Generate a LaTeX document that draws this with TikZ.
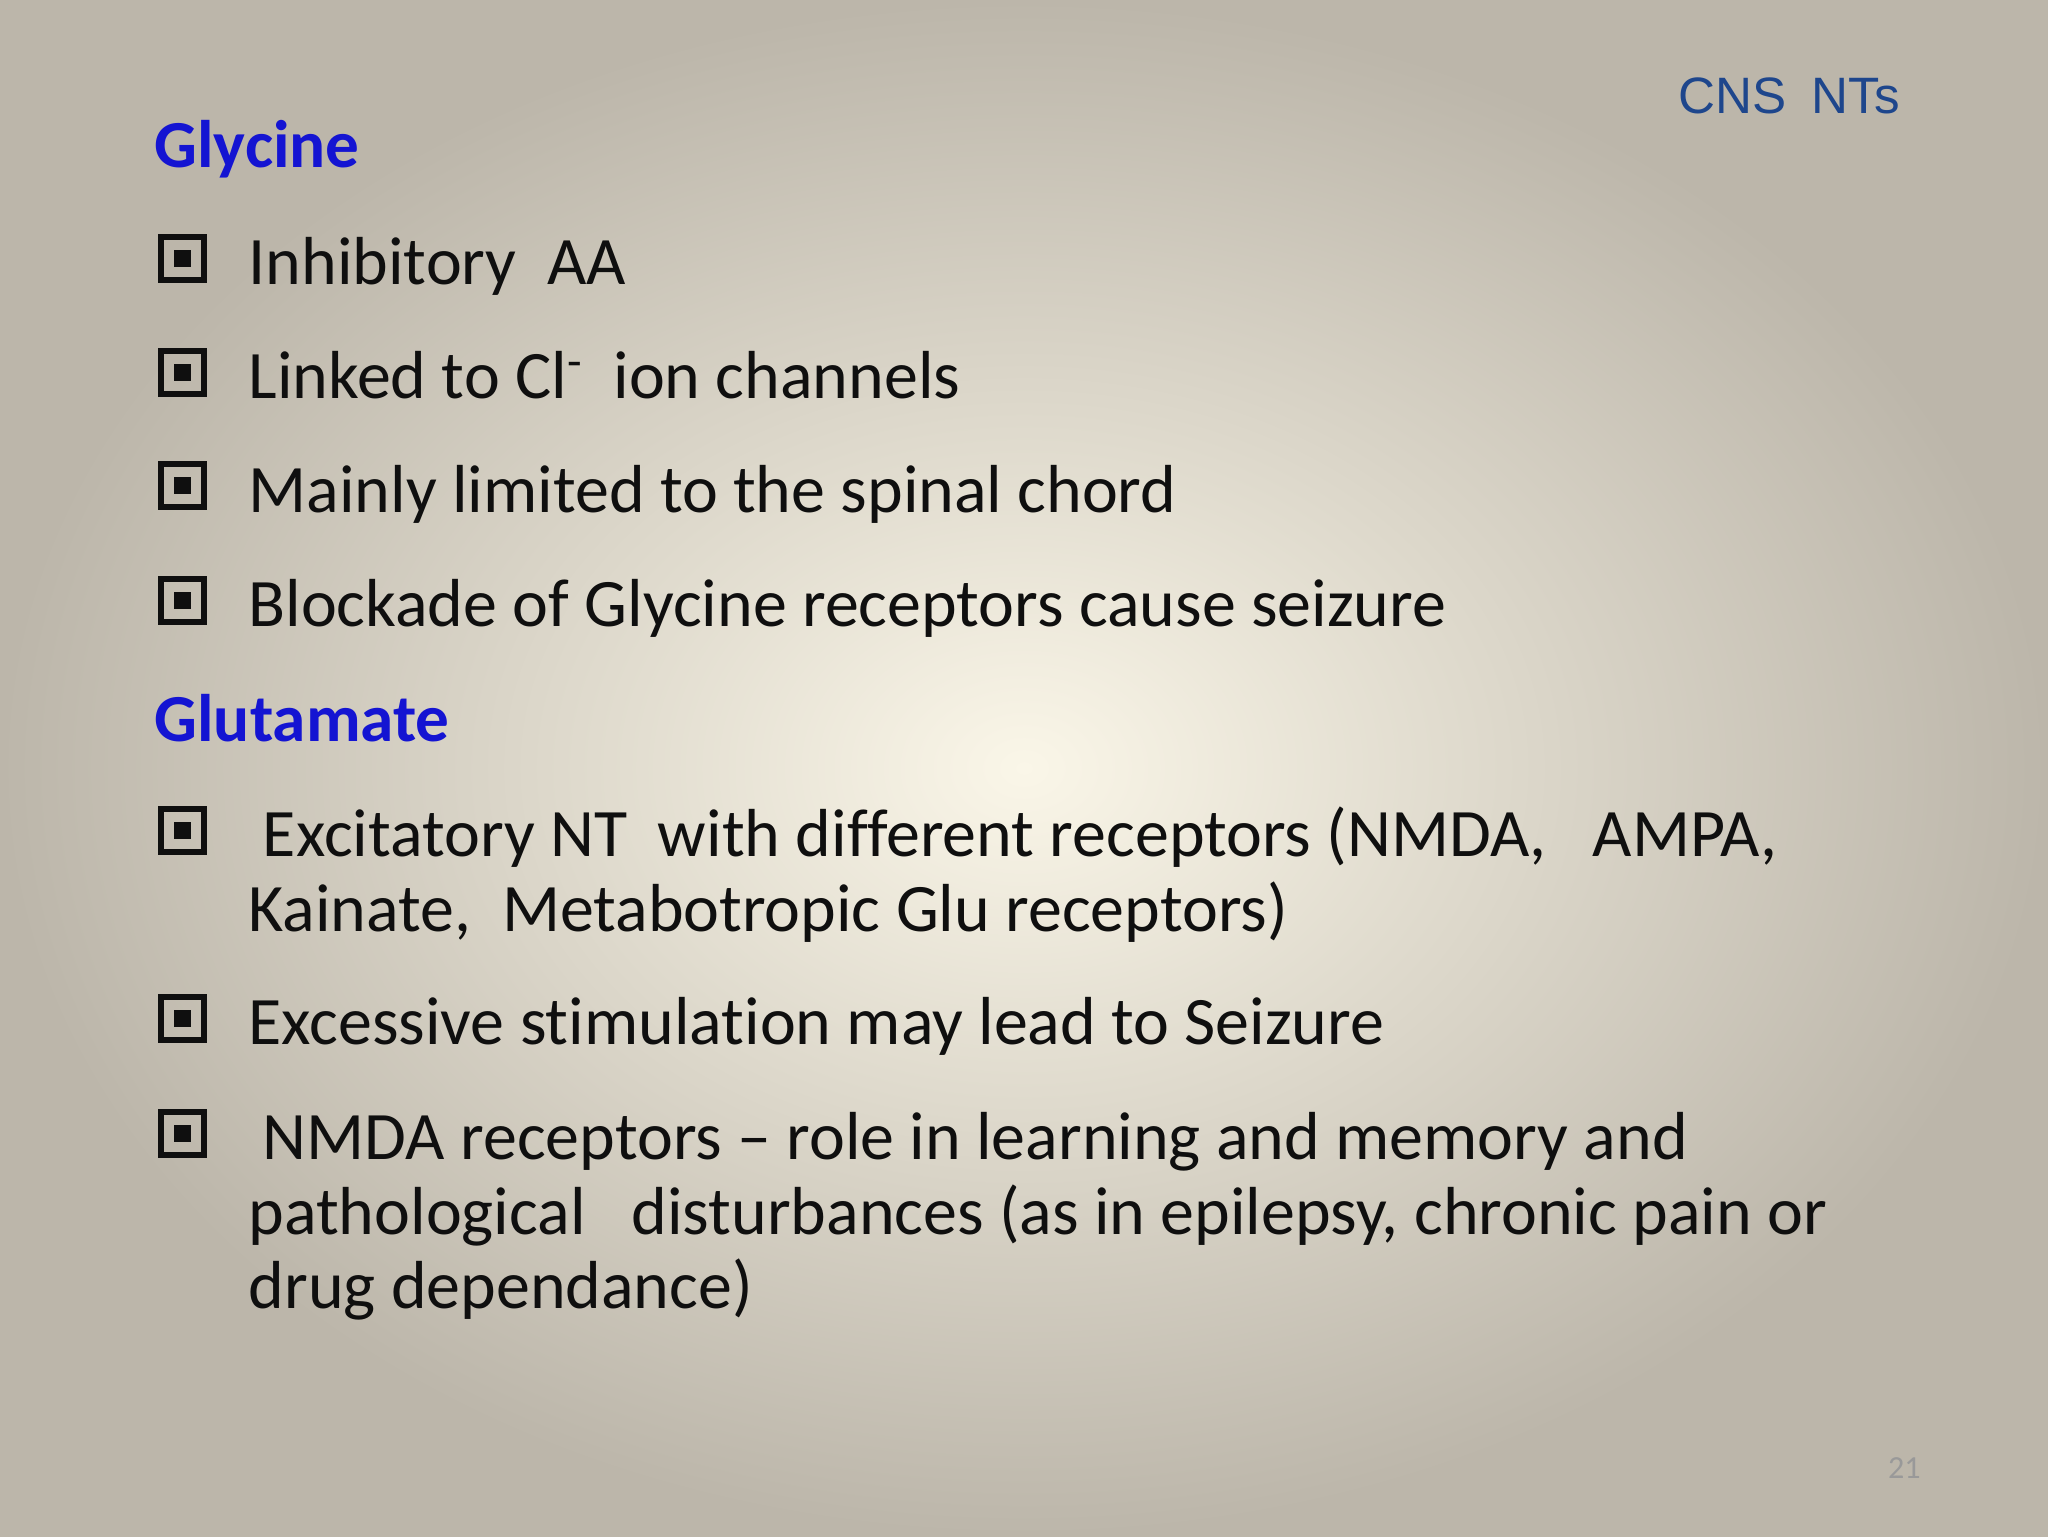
\documentclass[tikz,border=0pt]{standalone}
\usepackage{fontspec}
\setmainfont[Ligatures={NoCommon,NoRare}]{Carlito}
\newfontfamily\arialf{Liberation Sans}
\definecolor{headblue}{RGB}{20,20,210}
\definecolor{cnsblue}{RGB}{30,70,140}
\definecolor{txt}{RGB}{15,15,15}
\definecolor{bgin}{RGB}{250,246,232}
\definecolor{bgout}{RGB}{188,182,170}
\tikzset{
 body/.style={anchor=base west,inner sep=0pt,text=txt,font=\fontsize{29.6}{36}\selectfont},
 head/.style={anchor=base west,inner sep=0pt,text=headblue,font=\fontsize{29.3}{34}\bfseries\selectfont},
}
\newcommand{\bul}[2]{%
 \draw[line width=2.6pt,txt] (#1-0.33,#2-0.33) rectangle (#1+0.33,#2+0.33);
 \fill[txt] (#1-0.13,#2-0.13) rectangle (#1+0.13,#2+0.13);}
\begin{document}
\begin{tikzpicture}[x=1cm,y=1cm]
\useasboundingbox (0,0) rectangle (31.36,-23.52);
\shade[inner color=bgin,outer color=bgout] (0,0) rectangle (31.36,-23.52);
\node[anchor=base east,inner sep=0pt,text=cnsblue,font=\arialf\fontsize{22.3}{26}\selectfont] (cns) at (29.1,-1.74) {CNS\enspace NTs};
\node[head] (h1) at (2.36,-2.56) {Glycine};
\bul{2.8}{-3.96}\node[body] (b1) at (3.8,-4.36) {Inhibitory\ \ AA};
\bul{2.8}{-5.7}\node[body] (b2) at (3.8,-6.1) {Linked to Cl\textsuperscript{-}\ \ ion channels};
\bul{2.8}{-7.44}\node[body] (b3) at (3.8,-7.84) {Mainly limited to the spinal chord};
\bul{2.8}{-9.2}\node[body] (b4) at (3.8,-9.6) {Blockade of Glycine receptors cause seizure};
\node[head] (h2) at (2.36,-11.36) {Glutamate};
\bul{2.8}{-12.72}\node[body] (b5) at (4.02,-13.12) {Excitatory NT\ \ with different receptors (NMDA,\ \ \ AMPA,};
\node[body] (b5b) at (3.8,-14.26) {Kainate,\ \ Metabotropic Glu receptors)};
\bul{2.8}{-15.6}\node[body] (b6) at (3.8,-16.0) {Excessive stimulation may lead to Seizure};
\bul{2.8}{-17.36}\node[body] (b7) at (4.02,-17.76) {NMDA receptors -- role in learning and memory and};
\node[body] (b7b) at (3.8,-18.9) {pathological\ \ \ disturbances (as in epilepsy, chronic pain or};
\node[body] (b7c) at (3.8,-20.04) {drug dependance)};
\node[anchor=base,inner sep=0pt,text=gray!80,font=\fontsize{14}{16}\selectfont] (pg) at (29.16,-22.64) {21};
\end{tikzpicture}
\end{document}
